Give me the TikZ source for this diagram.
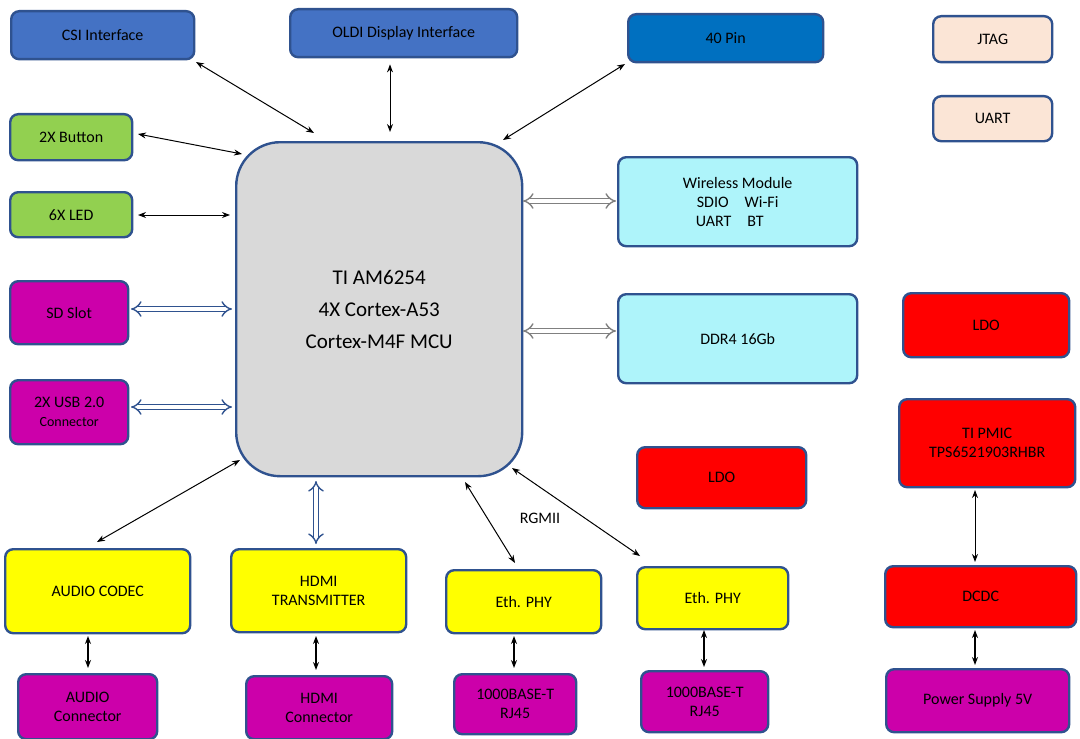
\documentclass[tikz,border=0pt]{standalone}
\usepackage{fontspec}
\setmainfont{Carlito}
\usetikzlibrary{arrows.meta}
\definecolor{bfill}{HTML}{4472C4}\definecolor{bdraw}{HTML}{2F528F}
\definecolor{pfill}{HTML}{0070C0}
\definecolor{peach}{HTML}{FBE5D6}
\definecolor{gfill}{HTML}{92D050}
\definecolor{cfill}{HTML}{AEF4FA}
\definecolor{mfill}{HTML}{CC00AA}
\definecolor{yfill}{HTML}{FFFF00}
\definecolor{rfill}{HTML}{FF0000}
\definecolor{gray1}{HTML}{D9D9D9}
\tikzset{
 bx/.style={draw=bdraw,line width=1.2pt,rounded corners=4pt,align=center,font=\fontsize{8}{9.5}\selectfont},
 ar/.style={{Stealth[length=4pt]}-{Stealth[length=4pt]},line width=0.5pt},
 dar/.style={double=white,double distance=2pt,line width=0.7pt,{Implies}-{Implies}},
}
\newcommand{\bbox}[5]{\node[bx,fill=#5,minimum width={(#3-#1)*0.5pt},minimum height={(#4-#2)*0.5pt},anchor=north west]}
\begin{document}
\begin{tikzpicture}[x=0.5pt,y=-0.5pt]
\useasboundingbox (0,0) rectangle (1080,738);
\bbox{10}{10}{193}{58}{bfill} (csi) at (10,10) {CSI Interface};
\bbox{289}{8}{516}{56}{bfill} (oldi) at (289,8) {OLDI Display Interface};
\bbox{627}{13}{822}{61}{pfill} (pin) at (627,13) {40 Pin};
\bbox{932}{15}{1051}{61}{peach} (jtag) at (932,15) {JTAG};
\bbox{932}{95}{1051}{140}{peach} (uart) at (932,95) {UART};
\bbox{9}{113}{131}{159}{gfill} (btn) at (9,113) {2X Button};
\bbox{9}{191}{131}{236}{gfill} (led) at (9,191) {6X LED};
\node[bx,fill=gray1,rounded corners=22pt,minimum width=143pt,minimum height=167pt,anchor=north west,font=\fontsize{10.5}{16}\selectfont] (mcu) at (235,141) {TI AM6254\\4X Cortex-A53\\Cortex-M4F MCU};
\bbox{617}{156}{856}{245}{cfill} (wifi) at (617,156) {Wireless Module\\SDIO\quad Wi-Fi\\UART\quad BT\phantom{i-F}};
\bbox{617}{293}{856}{382}{cfill} (ddr) at (617,293) {DDR4 16Gb};
\bbox{9}{280}{127}{343}{mfill} (sd) at (9,280) {SD Slot};
\bbox{9}{379}{127}{443}{mfill} (usb) at (9,379) {2X USB 2.0\\{\fontsize{7}{8}\selectfont Connector}};
\bbox{902}{292}{1068}{356}{rfill} (ldo1) at (902,292) {LDO};
\bbox{898}{398}{1074}{486}{rfill} (pmic) at (898,398) {TI PMIC\\TPS6521903RHBR};
\bbox{636}{446}{805}{507}{rfill} (ldo2) at (636,446) {LDO};
\bbox{4}{548}{189}{632}{yfill} (codec) at (4,548) {AUDIO CODEC};
\bbox{230}{548}{405}{631}{yfill} (hdmi) at (230,548) {HDMI\\TRANSMITTER};
\bbox{445}{569}{600}{632}{yfill} (eth1) at (445,569) {Eth. PHY};
\bbox{636}{566}{787}{628}{yfill} (eth2) at (636,566) {Eth. PHY};
\bbox{884}{565}{1075}{626}{rfill} (dcdc) at (884,565) {DCDC};
\bbox{17}{673}{156}{738}{mfill} (aconn) at (17,673) {AUDIO\\Connector};
\bbox{245}{675}{391}{738}{mfill} (hconn) at (245,675) {HDMI\\Connector};
\bbox{453}{673}{575}{733}{mfill} (rj1) at (453,673) {1000BASE-T\\RJ45};
\bbox{640}{670}{767}{731}{mfill} (rj2) at (640,670) {1000BASE-T\\RJ45};
\bbox{885}{668}{1068}{731}{mfill} (pwr) at (885,668) {Power Supply 5V};
% connectors
\coordinate (c1) at (196,62); \coordinate (c1b) at (314,133);
\draw[ar] (c1) -- (c1b);
\draw[ar] (oldi.south -| 390,0) ++(0,6) -- (390,132);
\draw[ar] (625,64) -- (503,140);
\draw[ar] (138,134) -- (242,154);
\draw[ar] (138,215) -- (230,215);
\draw[ar] (240,460) -- (97,542);
\draw[ar] (465,482) -- (515,563);
\draw[ar] (512,468) -- (640,556);
\node[font=\fontsize{8}{9}\selectfont] (rg) at (540,518) {RGMII};
\draw[dar,draw=bdraw] (316,481) -- (316,544);
\draw[dar,draw=gray] (523,201) -- (616,201);
\draw[dar,draw=gray] (523,331) -- (616,331);
\draw[dar,draw=bdraw] (131,309) -- (232,309);
\draw[dar,draw=bdraw] (131,407) -- (232,407);
\draw[ar,line width=0.8pt] (88,636) -- (88,668);
\draw[ar,line width=0.8pt] (316,636) -- (316,670);
\draw[ar,line width=0.8pt] (514,636) -- (514,668);
\draw[ar,line width=0.8pt] (704,630) -- (704,667);
\draw[ar] (975,490) -- (975,562);
\draw[ar,line width=0.8pt] (975,630) -- (975,665);
\end{tikzpicture}
\end{document}
